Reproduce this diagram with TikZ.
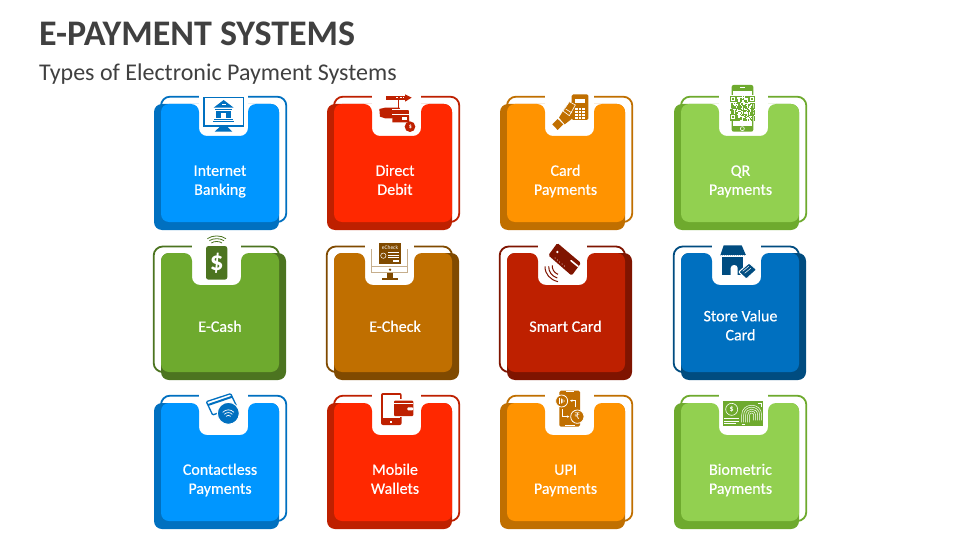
\documentclass[tikz,border=0pt]{standalone}
\usepackage{fontspec}
\setmainfont{Carlito}
\newfontfamily\lblfont[RawFeature={embolden=0.45}]{Carlito}
\newfontfamily\symfont{DejaVu Sans}
\usetikzlibrary{arrows.meta}
\definecolor{cBlue}{HTML}{0096FF}\definecolor{cBlueD}{HTML}{0070C0}
\definecolor{cRed}{HTML}{FF2800}\definecolor{cRedD}{HTML}{BE2000}
\definecolor{cOra}{HTML}{FF9300}\definecolor{cOraD}{HTML}{C06F00}
\definecolor{cLim}{HTML}{92D050}\definecolor{cLimD}{HTML}{6EAA2E}
\definecolor{cGrn}{HTML}{6EAA2E}\definecolor{cGrnD}{HTML}{4C7420}
\definecolor{cBrn}{HTML}{C06F00}\definecolor{cBrnD}{HTML}{804A00}
\definecolor{cDrd}{HTML}{BE2000}\definecolor{cDrdD}{HTML}{7F1400}
\definecolor{cDbl}{HTML}{0070C0}\definecolor{cDblD}{HTML}{004C80}
\definecolor{cInk}{HTML}{404040}
\tikzset{
  cardlabel/.style={text=white,align=center,inner sep=0pt,font=\lblfont\fontsize{16}{19}\selectfont},
  z/.style 2 args={shift={(#1,#2)},x=0.33333pt,y=-0.33333pt},
}
% id, face left, face top, face colour, shadow colour, text, text centre x
\newcommand{\cardA}[7]{%
  \draw[#5,line width=1.8pt,fill=white,rounded corners=9pt] (#2,#3-7.3) rectangle (#2+125.3,#3+118);
  \fill[#5,rounded corners=8pt] (#2-7,#3) rectangle (#2+118,#3+126);
  \fill[white] (#2+38,#3-10) rectangle (#2+87,#3+32);
  \fill[white] (#2+29,#3) rectangle (#2+96,#3+10);
  \fill[#4,rounded corners=8pt] (#2,#3+50) -- (#2,#3) -- (#2+38,#3) -- (#2+38,#3+32) -- (#2+87,#3+32) -- (#2+87,#3) -- (#2+118,#3) -- (#2+118,#3+118) -- (#2,#3+118) -- cycle;
  \node[cardlabel] (#1) at (#7,#3+77.5) {#6};
}
\newcommand{\cardB}[7]{%
  \draw[#5,line width=1.8pt,fill=white,rounded corners=9pt] (#2-7.3,#3-6.5) rectangle (#2+118,#3+119);
  \fill[#5,rounded corners=8pt] (#2,#3) rectangle (#2+125,#3+127);
  \fill[white] (#2+31,#3-10) rectangle (#2+80,#3+32);
  \fill[white] (#2+22,#3) rectangle (#2+89,#3+10);
  \fill[#4,rounded corners=8pt] (#2,#3+50) -- (#2,#3) -- (#2+31,#3) -- (#2+31,#3+32) -- (#2+80,#3+32) -- (#2+80,#3) -- (#2+118,#3) -- (#2+118,#3+119) -- (#2,#3+119) -- cycle;
  \node[cardlabel] (#1) at (#7,#3+74) {#6};
}
\begin{document}
\begin{tikzpicture}[x=1pt,y=-1pt]
\useasboundingbox (0,0) rectangle (960,540);
\fill[white] (0,0) rectangle (960,540);
\node[anchor=base west,inner sep=0pt,text=cInk,font=\fontsize{36}{40}\selectfont\bfseries] (title) at (39,46) {E-PAYMENT SYSTEMS};
\node[anchor=base west,inner sep=0pt,text=cInk,font=\fontsize{24}{28}\selectfont] (subtitle) at (39,81) {Types of Electronic Payment Systems};

\cardA{c1}{161}{104}{cBlue}{cBlueD}{Internet\strut\\Banking\strut}{220}
\cardA{c2}{334}{104}{cRed}{cRedD}{Direct\strut\\Debit\strut}{395}
\cardA{c3}{507}{104}{cOra}{cOraD}{Card\strut\\Payments\strut}{565.5}
\cardA{c4}{681}{104}{cLim}{cLimD}{QR\strut\\Payments\strut}{740.5}
\cardB{c5}{161}{253}{cGrn}{cGrnD}{\raisebox{-1pt}{E-Cash}\strut}{220}
\cardB{c6}{334}{253}{cBrn}{cBrnD}{\raisebox{-1pt}{E-Check}\strut}{395}
\cardB{c7}{507}{253}{cDrd}{cDrdD}{\raisebox{-1pt}{Smart Card}\strut}{565.5}
\cardB{c8}{681}{253}{cDbl}{cDblD}{Store Value\strut\\Card\strut}{740.5}
\cardA{c9}{161}{403}{cBlue}{cBlueD}{Contactless\strut\\Payments\strut}{220}
\cardA{c10}{334}{403}{cRed}{cRedD}{Mobile\strut\\Wallets\strut}{395}
\cardA{c11}{507}{403}{cOra}{cOraD}{UPI\strut\\Payments\strut}{565.5}
\cardA{c12}{681}{403}{cLim}{cLimD}{Biometric\strut\\Payments\strut}{740.5}

% --- Internet banking
\begin{scope}[z={140}{85}]
  \draw[cBlueD,line width=1.6pt,fill=white] (192,37) rectangle (310,123);
  \fill[cBlueD] (241,124) -- (261,124) -- (277,140) -- (224,140) -- cycle;
  \fill[cBlueD] (251,45) -- (281,68) -- (221,68) -- cycle;
  \fill[white] (245,56) rectangle (257,60);
  \fill[cBlueD] (225,71) rectangle (277,76);
  \fill[cBlueD] (229,78) rectangle (243,99);
  \fill[cBlueD] (259,78) rectangle (273,99);
  \fill[cBlueD] (243,78) rectangle (259,84);
  \fill[cBlueD] (223,101) rectangle (279,105);
  \fill[cBlueD] (219,107) rectangle (283,111);
\end{scope}
% --- Direct debit
\begin{scope}[z={140}{85},cRedD]
  \fill (738,32) rectangle (795,44);
  \fill (795,28) -- (815,38) -- (795,50) -- cycle;
  \draw[white,line width=0.7pt,dash pattern=on 2pt off 1.5pt] (768,38) -- (793,38);
  \draw[line width=0.8pt] (775,44) -- (775,70);
  \fill (718,72) -- (735,68) -- (778,68) -- (782,76) -- (760,84) -- (758,100) -- (735,100) -- (720,95) -- cycle;
  \fill (757,74) -- (806,74) -- (808,112) -- (757,112) -- cycle;
  \draw[white,line width=0.7pt] (757,74) -- (806,74) (757,88) -- (806,88);
  \fill[white] (787,95) rectangle (802,105);
  \fill (810,125) circle[radius=16];
  \node[inner sep=0pt,text=white,font=\fontsize{6}{6}\selectfont\bfseries] (ddollar) at (811,125) {\$};
\end{scope}
% --- Card payments
\begin{scope}[z={490}{85},cOraD]
  \fill[rounded corners=1.5pt] (245,28) rectangle (295,105);
  \fill[white] (255,42) rectangle (285,55);
  \foreach \kx in {255,266,277} \foreach \ky in {70,79,88,97} \fill[white] (\kx,\ky) rectangle +(8,5);
  \fill (187,118) -- (203,102) -- (220,118) -- (203,135) -- cycle;
  \fill (207,98) -- (225,68) -- (248,48) -- (252,75) -- (245,102) -- (224,118) -- cycle;
  \draw[white,line width=0.6pt,fill=cOraD] (219,78) -- (238,50) -- (256,60) -- (238,92) -- cycle;
  \draw[white,line width=0.6pt] (227,72) -- (246,84);
\end{scope}
% --- QR payments
\begin{scope}[z={490}{85},cLimD]
  \fill[rounded corners=2pt] (725,0) rectangle (790,140);
  \fill[white] (729,17) rectangle (786,122);
  \fill[white] (750,7) rectangle (765,10);
  \draw[white,line width=0.6pt] (757,131) circle[radius=6];
  \pgfmathsetseed{42}
  \foreach \qi in {0,...,20} \foreach \qj in {0,...,20} {
    \pgfmathtruncatemacro{\qv}{rnd<0.52 ? 1 : 0}
    \ifnum\qv=1\relax
      \fill (720+\qi*3.57,32+\qj*3.57) rectangle +(3.7,3.7);
    \fi
  }
  \foreach \qx/\qy in {720/32,775/32,720/87} {
    \fill[white] (\qx-1,\qy-1) rectangle +(23,23);
    \draw[line width=1.2pt] (\qx+2,\qy+2) rectangle +(16,16);
    \fill (\qx+7,\qy+7) rectangle +(6,6);
  }
\end{scope}
% --- E-Cash
\begin{scope}[z={140}{232},cGrnD]
  \fill[rounded corners=2.5pt] (198,42) rectangle (262,143);
  \node[inner sep=0pt,text=white,font=\fontsize{27}{27}\selectfont\bfseries] (cash) at (230,95) {\$};
  \draw[line width=0.8pt] (214,33) .. controls (222,27) and (238,27) .. (246,33);
  \draw[line width=0.8pt] (208,26) .. controls (220,18) and (240,18) .. (252,26);
  \draw[line width=0.8pt] (202,20) .. controls (218,9) and (242,9) .. (258,20);
\end{scope}
% --- E-Check
\begin{scope}[z={140}{232},cBrnD]
  \draw[cBrnD!45,line width=0.8pt] (694,52) -- (694,122) -- (803,122) -- (803,52);
  \draw[cBrnD!45,line width=0.8pt] (694,103) -- (803,103);
  \fill (717,33) rectangle (783,95);
  \node[inner sep=0pt,text=white,font=\fontsize{5.5}{6}\selectfont] (chk) at (750,46) {eCheck};
  \draw[white,line width=0.5pt] (730,71) circle[radius=8];
  \draw[white,line width=0.5pt] (743,62) -- (778,62) (743,69) -- (778,69) (743,76) -- (778,76);
  \fill[white] (760,85) rectangle (778,90);
  \fill (750,113) circle[radius=4];
  \fill (741,123) rectangle (759,137);
  \fill (727,137) rectangle (773,143);
\end{scope}
% --- Smart card
\begin{scope}[z={490}{232},cDrdD]
  \fill[rounded corners=1.5pt] (202,33) -- (273,93) -- (245,131) -- (175,70) -- cycle;
  \draw[white,line width=1.6pt,line cap=round] (243,86) -- (264,103);
  \fill[white] (202,60) circle[radius=4];
  \foreach \dt in {0,1,2,3,4} \fill[white] (195+\dt*7,78+\dt*6) circle[radius=1.5];
  \draw[line width=1pt] (187,100) .. controls (186,112) and (192,122) .. (204,127);
  \draw[line width=1pt] (176,103) .. controls (176,120) and (186,133) .. (202,138);
  \draw[line width=1pt] (165,103) .. controls (165,127) and (180,143) .. (204,149);
\end{scope}
% --- Store value card
\begin{scope}[z={490}{232},cDblD]
  \fill (701,40) -- (755,40) -- (768,70) -- (691,70) -- cycle;
  \draw[white,line width=0.6pt,dash pattern=on 1pt off 1pt] (692,71) -- (768,71);
  \fill (695,74) rectangle (760,128);
  \fill[white] (722,129) -- (722,108) .. controls (722,96) and (743,96) .. (743,108) -- (743,129) -- cycle;
  \draw[white,line width=1pt,fill=cDblD,rounded corners=1pt] (746,120) -- (777,93) -- (800,113) -- (769,141) -- cycle;
  \draw[white,line width=0.5pt] (758,118) -- (776,103) (764,124) -- (782,109);
\end{scope}
% --- Contactless
\begin{scope}[z={140}{385}]
  \draw[cBlueD,line width=1.3pt,fill=white,rounded corners=1pt] (199,50) -- (272,26) -- (290,64) -- (218,90) -- cycle;
  \draw[cBlueD,line width=2pt] (204,60) -- (277,35);
  \draw[white,line width=1pt,fill=cBlueD] (265,85) circle[radius=33];
  \draw[white,line width=0.7pt] (248,82) .. controls (258,72) and (272,72) .. (282,82);
  \draw[white,line width=0.7pt] (253,88) .. controls (260,81) and (270,81) .. (277,88);
  \draw[white,line width=0.7pt] (258,94) .. controls (262,90) and (268,90) .. (272,94);
\end{scope}
% --- Mobile wallets
\begin{scope}[z={140}{385},cRedD]
  \fill[rounded corners=2pt] (723,24) rectangle (785,120);
  \fill[white] (729,31) rectangle (779,100);
  \fill[white] (751,108) rectangle (756,113);
  \fill[white] (757,43) rectangle (824,96);
  \fill[rounded corners=1pt] (762,47) rectangle (820,93);
  \draw[white,line width=0.5pt] (762,54) -- (820,54);
  \fill[white,rounded corners=1pt] (802,67) rectangle (820,76);
\end{scope}
% --- UPI
\begin{scope}[z={490}{385},cOraD]
  \fill[rounded corners=1.5pt] (208,17) rectangle (270,125);
  \draw[white,line width=0.5pt] (228,20) -- (252,20) (225,120) -- (255,120);
  \draw[white,line width=0.8pt,fill=cOraD] (215,48) circle[radius=18];
  \fill[white] (207,40) rectangle (211,56);
  \fill[white] (213,40) -- (225,48) -- (213,56) -- cycle;
  \draw[cOraD,line width=0.5pt] (216,44) -- (222,48) -- (216,52);
  \draw[white,line width=0.6pt,-{Stealth[length=2.5pt,width=2.5pt]}] (257,66) -- (257,47) -- (240,47);
  \draw[white,line width=0.6pt,-{Stealth[length=2.5pt,width=2.5pt]}] (218,72) -- (218,95) -- (238,95);
  \draw[white,line width=0.8pt,fill=cOraD] (262,95) circle[radius=20];
  \node[inner sep=0pt,text=white,font=\symfont\fontsize{9}{9}\selectfont] (rupee) at (262,95) {₹};
\end{scope}
% --- Biometric
\begin{scope}[z={490}{385},cLimD]
  \fill (699,48) rectangle (820,123);
  \draw[white,line width=0.6pt] (725,73) circle[radius=18];
  \node[inner sep=0pt,text=white,font=\fontsize{8}{8}\selectfont\bfseries] (bdollar) at (725,73) {\$};
  \draw[white,line width=0.6pt] (703,100) -- (748,100) (703,108) -- (748,108) (703,116) -- (738,116);
  \foreach \fr in {6,12,18,24,30}
    \draw[white,line width=0.5pt] (785-\fr,112) -- (785-\fr,90) .. controls (785-\fr,90-1.3*\fr) and (785+\fr,90-1.3*\fr) .. (785+\fr,90) -- (785+\fr,106);
  \draw[white,line width=0.5pt] (805,55) -- (815,55) -- (815,65);
  \draw[white,line width=0.5pt] (755,118) -- (765,118);
\end{scope}
\end{tikzpicture}
\end{document}
